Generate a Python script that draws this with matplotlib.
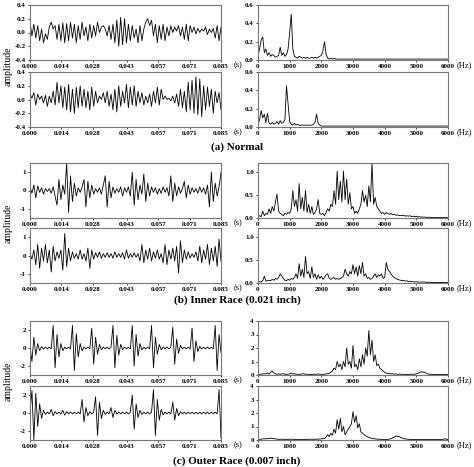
import numpy as np
import matplotlib
matplotlib.use("Agg")
import matplotlib.pyplot as plt

plt.rcParams['font.family'] = ['Liberation Serif', 'DejaVu Serif']

time_ticks = [0.000, 0.014, 0.028, 0.043, 0.057, 0.071, 0.085]
time_labels = ["0.000", "0.014", "0.028", "0.043", "0.057", "0.071", "0.085"]
freq_ticks = [0, 1000, 2000, 3000, 4000, 5000, 6000]

normal_t1 = [0.15,-0.05,0.12,-0.08,0.10,-0.12,0.05,-0.15,-0.02,-0.10,
             0.08,0.15,0.05,0.10,-0.10,0.12,-0.12,0.14,-0.15,0.13,
             -0.12,0.15,-0.08,0.12,-0.15,0.10,-0.10,0.15,-0.05,0.08,
             -0.12,0.12,-0.08,0.10,-0.05,0.15,0.00,0.08,0.10,0.05,
             -0.05,0.10,-0.10,0.12,-0.15,0.18,-0.20,0.22,-0.18,0.20,
             -0.15,0.12,-0.12,0.10,-0.08,0.05,-0.15,0.10,-0.12,0.05,
             0.15,0.20,0.10,0.18,-0.05,0.12,-0.15,0.10,-0.10,0.12,
             -0.12,0.08,-0.05,0.10,0.00,0.08,0.02,0.10,-0.05,0.08,
             -0.10,0.12,-0.12,0.10,0.00,0.08,-0.02,0.06,0.00,0.05,
             0.02,0.08,-0.03,0.05,0.00,0.06,-0.08,0.10,-0.12,0.08]
normal_t2 = [0.08,0.02,0.10,-0.08,0.08,0.00,0.05,-0.05,0.06,-0.10,
             0.05,-0.05,0.12,-0.08,0.25,-0.05,0.20,-0.12,0.18,-0.15,
             0.22,-0.18,0.15,-0.20,0.18,-0.12,0.20,-0.10,0.15,-0.12,
             0.12,-0.15,0.18,-0.10,0.12,-0.05,0.05,0.00,0.10,-0.05,
             0.12,-0.10,0.08,-0.15,0.15,-0.18,0.20,-0.10,0.12,-0.05,
             0.22,-0.12,0.18,-0.08,0.20,-0.10,0.12,-0.05,0.10,-0.08,
             0.05,-0.05,0.08,-0.10,0.12,-0.05,0.18,-0.08,0.15,0.00,
             0.05,0.00,0.02,-0.02,0.05,-0.05,0.08,-0.10,0.15,-0.12,
             0.12,-0.18,0.25,-0.15,0.28,-0.20,0.33,-0.22,0.30,-0.25,
             0.20,-0.15,0.18,-0.10,0.15,-0.20,0.12,-0.05,0.10,-0.15]
inner_t1 = [0.20,-0.15,0.30,-0.40,0.25,-0.10,0.15,-0.20,0.10,-0.05,
            0.10,-0.15,0.20,-0.30,-0.80,0.60,-0.50,0.30,-0.20,1.50,
            -1.20,0.80,-0.60,0.40,-0.30,0.15,-0.10,0.20,0.60,-0.90,
            0.50,-0.40,0.30,-0.20,0.10,-0.10,0.15,-0.20,0.30,0.80,
            -0.90,0.50,-0.40,0.20,-0.15,0.10,-0.10,0.20,-0.30,0.15,
            -0.10,0.20,-0.30,1.00,-0.80,0.60,-0.50,0.30,-0.20,0.90,
            -0.60,0.40,-0.30,0.20,-0.10,0.15,-0.20,0.10,-0.15,0.20,
            -0.10,0.15,-0.30,0.80,-0.60,0.40,-0.30,0.20,-0.15,0.10,
            0.50,-0.40,0.30,-0.20,0.15,-0.10,0.10,-0.15,0.20,-0.10,
            0.15,-0.20,0.30,-0.90,1.00,-0.60,0.40,-0.30,0.20,1.00]
inner_t2 = [0.10,-0.20,0.30,-0.50,0.60,-0.70,0.40,-0.30,0.60,-0.40,
            0.30,-0.90,0.50,-0.30,0.20,-0.15,0.30,-0.80,1.20,-0.60,
            0.40,-0.30,0.20,-0.15,0.10,-0.20,0.30,-0.20,0.10,-0.30,
            0.40,-0.70,0.30,-0.20,0.15,-0.10,0.20,-0.15,0.10,-0.10,
            0.15,-0.10,0.10,-0.15,0.20,-0.10,0.10,-0.10,0.15,-0.20,
            0.30,-0.15,0.10,-0.10,0.15,-0.10,0.10,-0.30,0.60,-0.40,
            0.30,-0.20,0.40,-0.30,0.20,-0.15,0.30,-0.20,0.10,-0.40,
            0.60,-0.50,0.30,-0.20,0.40,-0.30,0.50,-0.95,0.80,-0.40,
            0.30,-0.20,0.20,-0.15,0.10,-0.10,0.20,-0.30,0.50,-0.40,
            0.30,-0.20,0.60,-0.50,0.40,-0.30,0.50,-0.60,0.90,-0.30]
outer_t1 = [0.15,-1.50,1.20,-0.80,0.50,-0.30,0.15,-0.10,0.10,-0.10,
            0.10,-0.10,2.50,-2.20,1.50,-1.00,0.50,-0.30,0.10,-0.10,
            0.10,-0.10,2.50,-2.50,1.60,-1.00,0.50,-0.30,0.10,-0.10,
            0.10,-0.10,2.20,-1.80,1.20,-0.70,0.40,-0.20,0.10,-0.10,
            0.10,-0.10,0.10,2.50,-2.20,1.40,-0.80,0.40,-0.20,0.10,
            -0.10,0.10,-0.10,2.50,-2.00,1.50,-0.90,0.50,-0.20,0.10,
            -0.10,0.10,-0.10,2.50,-2.20,1.20,-0.70,0.40,-0.20,0.10,
            -0.10,0.10,-0.10,0.10,2.30,-1.80,1.00,-0.60,0.30,-0.10,
            0.10,-0.10,0.10,-0.10,2.20,-1.50,0.80,-0.40,0.20,-0.10,
            0.10,-0.10,0.10,-0.10,0.10,-0.10,2.50,-2.50,1.50,-0.50]
outer_t2 = [0.10,2.50,-3.00,2.20,-1.50,1.00,-0.60,0.30,-0.15,0.10,
            -0.10,0.40,-0.30,0.15,-0.10,0.10,-0.10,0.30,-0.25,0.15,
            -0.10,0.10,-0.10,0.10,-0.10,0.10,-0.10,1.50,-1.00,0.60,
            -0.30,0.15,-0.10,0.10,1.80,-2.50,1.20,-0.60,0.30,-0.15,
            0.10,-0.10,0.60,-0.50,0.30,-0.10,0.10,-0.10,0.10,-0.10,
            0.10,-0.10,0.10,2.00,-1.80,1.00,-0.50,0.30,-0.15,0.10,
            -0.10,0.10,-0.10,0.10,2.60,-2.50,1.50,-0.80,0.40,-0.20,
            0.10,-0.10,0.10,-0.10,1.20,-0.80,0.50,-0.30,0.15,-0.10,
            0.10,-0.10,0.10,-0.10,0.10,-0.10,0.10,-0.10,0.10,-0.10,
            0.10,-0.10,0.10,-0.10,0.10,-0.10,0.10,-0.10,2.60,-2.80]

freqs = list(range(0, 6001, 50))
normal_f1 = [0.05,0.12,0.22,0.25,0.08,0.12,0.05,0.08,0.04,0.06,
             0.05,0.03,0.04,0.05,0.14,0.05,0.08,0.04,0.06,0.12,
             0.30,0.50,0.12,0.04,0.03,0.02,0.04,0.03,0.02,0.03,
             0.02,0.03,0.02,0.02,0.03,0.02,0.03,0.02,0.03,0.04,
             0.05,0.10,0.20,0.06,0.02,0.01,0.02,0.01,0.02,0.01,
             0.01,0.01,0.01,0.01,0.01,0.01,0.01,0.01,0.01,0.01,
             0.01,0.01,0.01,0.01,0.01,0.01,0.01,0.01,0.01,0.01,
             0.01,0.01,0.01,0.01,0.01,0.01,0.01,0.01,0.01,0.01,
             0.01,0.01,0.01,0.01,0.01,0.01,0.01,0.01,0.01,0.01,
             0.01,0.01,0.01,0.01,0.01,0.01,0.01,0.01,0.01,0.01,
             0.01,0.01,0.01,0.01,0.01,0.01,0.01,0.01,0.01,0.01,
             0.01,0.01,0.01,0.01,0.01,0.01,0.01,0.01,0.01,0.01,0.01]
normal_f2 = [0.03,0.08,0.18,0.10,0.14,0.05,0.15,0.04,0.03,0.05,
             0.03,0.04,0.06,0.03,0.07,0.04,0.05,0.08,0.45,0.25,
             0.06,0.03,0.02,0.04,0.02,0.03,0.02,0.02,0.02,0.02,
             0.02,0.02,0.02,0.02,0.02,0.03,0.05,0.14,0.04,0.02,
             0.01,0.01,0.01,0.01,0.01,0.01,0.01,0.01,0.01,0.01,
             0.01,0.01,0.01,0.01,0.01,0.01,0.01,0.01,0.01,0.01,
             0.01,0.01,0.01,0.01,0.01,0.01,0.01,0.01,0.01,0.01,
             0.01,0.01,0.01,0.01,0.01,0.01,0.01,0.01,0.01,0.01,
             0.01,0.01,0.01,0.01,0.01,0.01,0.01,0.01,0.01,0.01,
             0.01,0.01,0.01,0.01,0.01,0.01,0.01,0.01,0.01,0.01,
             0.01,0.01,0.01,0.01,0.01,0.01,0.01,0.01,0.01,0.01,
             0.01,0.01,0.01,0.01,0.01,0.01,0.01,0.01,0.01,0.01,0.01]
inner_f1 = [0.02,0.05,0.03,0.15,0.05,0.10,0.08,0.20,0.10,0.25,
            0.15,0.35,0.52,0.15,0.10,0.08,0.05,0.10,0.08,0.12,
            0.10,0.20,0.60,0.25,0.40,0.15,0.75,0.20,0.45,0.15,
            0.60,0.12,0.30,0.10,0.25,0.08,0.12,0.20,0.40,0.10,
            0.08,0.10,0.05,0.12,0.20,0.15,0.30,0.25,0.60,0.30,
            1.02,0.40,0.80,0.35,1.02,0.40,0.85,0.30,0.55,0.20,
            0.25,0.10,0.15,0.10,0.20,0.30,0.60,0.35,0.50,0.25,
            0.70,0.35,1.20,0.30,0.45,0.25,0.20,0.15,0.10,0.12,
            0.08,0.12,0.10,0.08,0.10,0.07,0.08,0.06,0.07,0.05,
            0.06,0.05,0.06,0.04,0.05,0.04,0.05,0.03,0.04,0.03,
            0.04,0.02,0.03,0.02,0.02,0.02,0.02,0.01,0.02,0.01,
            0.01,0.01,0.01,0.01,0.01,0.01,0.01,0.01,0.01,0.01,0.01]
inner_f2 = [0.01,0.03,0.02,0.05,0.15,0.04,0.05,0.06,0.05,0.08,
            0.06,0.10,0.08,0.12,0.20,0.15,0.10,0.06,0.05,0.08,
            0.06,0.10,0.08,0.12,0.20,0.10,0.42,0.15,0.30,0.12,
            0.58,0.20,0.25,0.10,0.35,0.12,0.20,0.08,0.18,0.10,
            0.15,0.08,0.12,0.18,0.20,0.10,0.08,0.10,0.12,0.08,
            0.10,0.08,0.10,0.12,0.15,0.30,0.20,0.15,0.25,0.20,
            0.40,0.20,0.35,0.15,0.38,0.20,0.45,0.15,0.20,0.10,
            0.12,0.08,0.10,0.15,0.20,0.12,0.18,0.15,0.20,0.10,
            0.12,0.45,0.30,0.25,0.20,0.15,0.12,0.10,0.08,0.07,
            0.06,0.05,0.06,0.04,0.05,0.03,0.04,0.03,0.03,0.02,
            0.03,0.02,0.02,0.02,0.02,0.02,0.02,0.01,0.02,0.01,
            0.01,0.01,0.01,0.01,0.01,0.01,0.01,0.01,0.01,0.01,0.01]
outer_f1 = [0.02,0.05,0.06,0.08,0.10,0.08,0.15,0.06,0.20,0.30,
            0.15,0.10,0.05,0.08,0.06,0.08,0.10,0.06,0.05,0.06,
            0.08,0.15,0.06,0.10,0.05,0.06,0.05,0.06,0.08,0.10,
            0.05,0.06,0.05,0.05,0.04,0.06,0.05,0.06,0.08,0.05,
            0.05,0.05,0.06,0.08,0.10,0.12,0.20,0.30,0.50,0.40,
            1.00,0.60,0.80,0.40,1.00,0.60,2.00,0.80,1.00,0.50,
            2.20,0.60,0.80,0.40,1.20,0.60,1.50,0.80,2.00,1.40,
            3.30,1.50,2.60,1.00,1.50,0.70,0.80,0.50,0.40,0.30,
            0.20,0.15,0.10,0.12,0.08,0.10,0.06,0.08,0.05,0.06,
            0.05,0.06,0.05,0.05,0.04,0.05,0.05,0.06,0.05,0.06,
            0.08,0.12,0.18,0.25,0.20,0.22,0.15,0.10,0.06,0.05,
            0.04,0.04,0.04,0.03,0.03,0.03,0.03,0.03,0.03,0.03,0.03]
outer_f2 = [0.02,0.05,0.06,0.08,0.10,0.08,0.12,0.10,0.15,0.10,
            0.12,0.08,0.06,0.05,0.06,0.05,0.06,0.05,0.04,0.05,
            0.05,0.06,0.05,0.05,0.04,0.05,0.04,0.05,0.04,0.05,
            0.04,0.05,0.05,0.06,0.05,0.06,0.05,0.06,0.06,0.08,
            0.08,0.10,0.12,0.20,0.40,0.25,0.50,0.35,0.80,0.50,
            1.50,0.80,1.60,0.60,1.00,0.40,0.60,0.80,1.00,1.20,
            2.10,1.30,1.80,0.90,1.20,0.60,0.50,0.40,0.30,0.25,
            0.20,0.15,0.12,0.10,0.08,0.07,0.06,0.05,0.05,0.04,
            0.05,0.04,0.05,0.06,0.10,0.15,0.20,0.30,0.25,0.28,
            0.20,0.15,0.10,0.08,0.06,0.05,0.05,0.04,0.04,0.04,
            0.04,0.04,0.03,0.03,0.03,0.03,0.03,0.03,0.03,0.03,
            0.03,0.03,0.03,0.03,0.03,0.03,0.03,0.05,0.10,0.05,0.03]

W, H = 474, 467
fig = plt.figure(figsize=(W/100, H/100), dpi=100)

def ax_at(x0, x1, y0, y1):
    return fig.add_axes([x0/W, 1 - y1/H, (x1-x0)/W, (y1-y0)/H])

spine_col = '#777777'

def style(ax):
    for s in ax.spines.values():
        s.set_color(spine_col)
        s.set_linewidth(0.8)
    ax.tick_params(length=1.5, width=0.5, pad=1.5, colors='black')
    for lab in ax.get_xticklabels() + ax.get_yticklabels():
        lab.set_fontsize(5)
        lab.set_fontweight('bold')

rows = [(5, 60), (72, 127), (163, 218), (228, 283), (321, 375), (386, 440)]
tsig = [normal_t1, normal_t2, inner_t1, inner_t2, outer_t1, outer_t2]
fsig = [normal_f1, normal_f2, inner_f1, inner_f2, outer_f1, outer_f2]
tlims = [(-0.4, 0.4), (-0.4, 0.4), (-1.5, 1.5), (-1.5, 1.5), (-3, 3), (-3, 3)]
tyt = [[-0.4, -0.2, 0.0, 0.2, 0.4]] * 2 + [[-1, 0, 1]] * 2 + [[-2, 0, 2]] * 2
tytl = [["-0.4", "-0.2", "0.0", "0.2", "0.4"]] * 2 + [["-1", "0", "1"]] * 2 + [["-2", "0", "2"]] * 2
flims = [(0, 0.6), (0, 0.6), (0, 1.2), (0, 1.2), (0, 4), (0, 4)]
fyt = [[0.0, 0.2, 0.4, 0.6]] * 2 + [[0.0, 0.5, 1.0]] * 2 + [[0, 1, 2, 3, 4]] * 2
fytl = [["0.0", "0.2", "0.4", "0.6"]] * 2 + [["0.0", "0.5", "1.0"]] * 2 + [["0", "1", "2", "3", "4"]] * 2

for i, (y0, y1) in enumerate(rows):
    ax = ax_at(30, 221, y0, y1)
    t = np.linspace(0, 0.085, len(tsig[i]))
    ax.plot(t, tsig[i], color='black', lw=0.6)
    ax.set_xlim(0, 0.085)
    ax.set_ylim(*tlims[i])
    ax.set_xticks(time_ticks)
    ax.set_xticklabels(time_labels)
    ax.set_yticks(tyt[i])
    ax.set_yticklabels(tytl[i])
    style(ax)
    ax.text(1.065, -0.03, "(s)", transform=ax.transAxes, fontsize=6, va='top', ha='left')

    ax2 = ax_at(258, 448, y0, y1)
    ax2.plot(freqs, fsig[i], color='black', lw=0.6)
    ax2.set_xlim(0, 6000)
    ax2.set_ylim(*flims[i])
    ax2.set_xticks(freq_ticks)
    ax2.set_yticks(fyt[i])
    ax2.set_yticklabels(fytl[i])
    style(ax2)
    ax2.text(1.045, -0.03, "(Hz)", transform=ax2.transAxes, fontsize=6, va='top', ha='left')

for yc in [66, 223, 381]:
    fig.text(8/W, 1 - yc/H, "amplitude", rotation=90, fontsize=7, va='center', ha='center')

titles = [("(a) Normal", 147), ("(b) Inner Race (0.021 inch)", 300), ("(c) Outer Race (0.007 inch)", 461)]
for txt, yc in titles:
    fig.text(237/W, 1 - yc/H, txt, fontsize=8, fontweight='bold', ha='center', va='center')

fig.savefig("out.png", dpi=100)
